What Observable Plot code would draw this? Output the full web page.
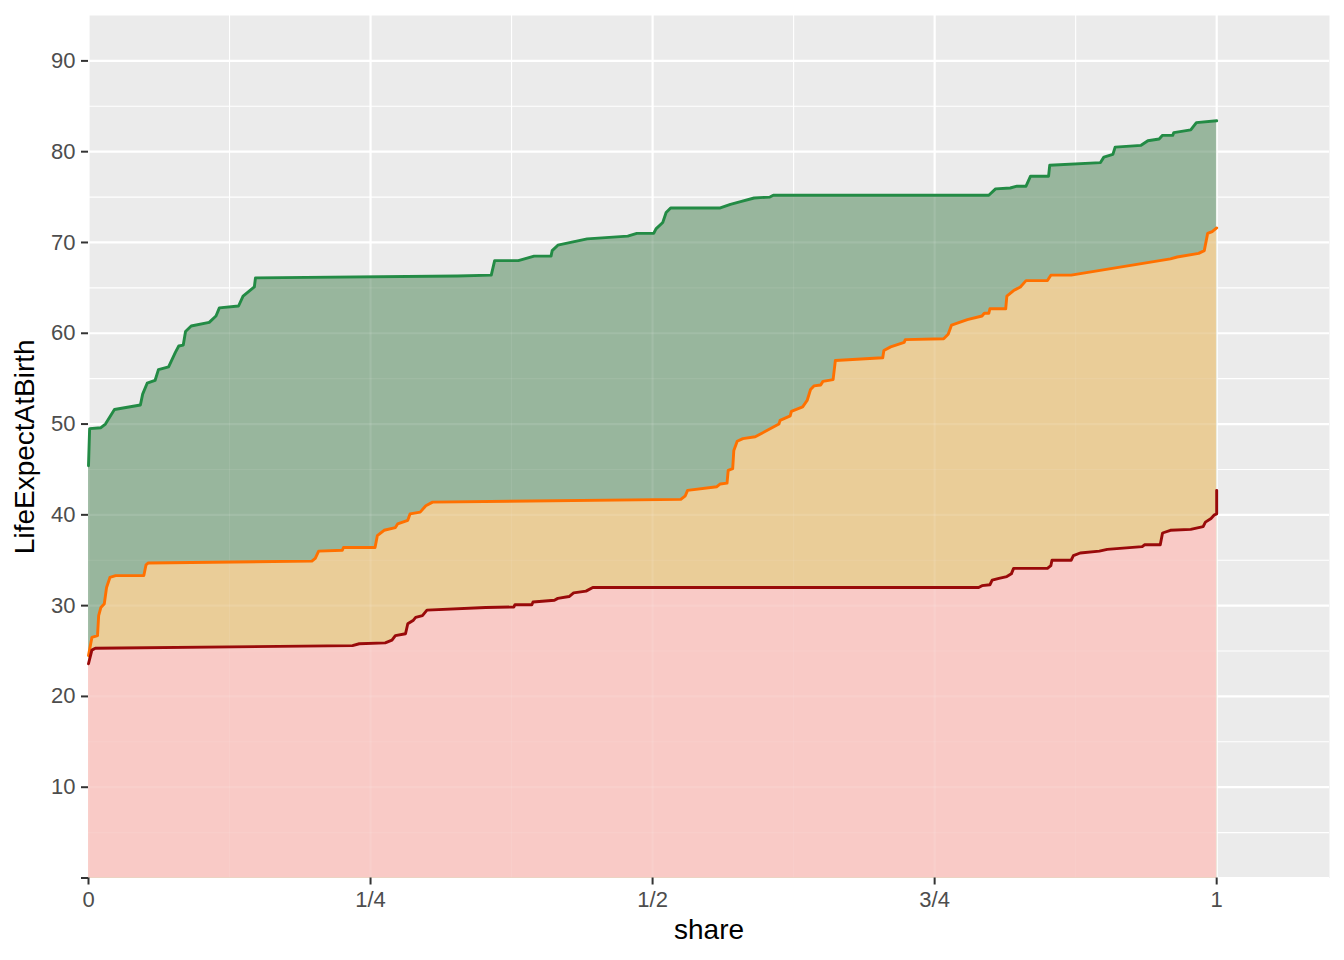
<!DOCTYPE html>
<html>
<head>
<meta charset="utf-8">
<script src="https://cdn.jsdelivr.net/npm/d3@7"></script>
<script src="https://cdn.jsdelivr.net/npm/@observablehq/plot@0.6"></script>
<style>
  html, body { margin: 0; padding: 0; background: #ffffff; }
  #chart { width: 1344px; height: 960px; }
</style>
</head>
<body>
<div id="chart"></div>
<script>
// ---- data ----
const redShare = [0,0.003,0.006,0.234,0.240,0.263,0.269,0.272,0.281,0.283,0.288,0.290,0.296,0.300,0.352,0.377,0.378,0.393,0.394,0.413,0.416,0.426,0.430,0.441,0.447,0.789,0.792,0.799,0.801,0.807,0.814,0.818,0.820,0.850,0.853,0.854,0.871,0.873,0.879,0.896,0.903,0.934,0.936,0.950,0.952,0.959,0.977,0.988,0.990,0.995,0.998,1.000,1.000];
const redLE    = [23.6,25.1,25.3,25.6,25.8,25.9,26.2,26.7,26.9,28.0,28.4,28.7,28.9,29.5,29.8,29.85,30.1,30.1,30.4,30.6,30.8,31.0,31.4,31.6,32.0,32.0,32.2,32.3,32.8,33.0,33.2,33.5,34.1,34.1,34.4,35.0,35.0,35.5,35.8,36.0,36.2,36.5,36.7,36.7,38.0,38.3,38.4,38.7,39.2,39.6,40.0,40.1,42.7];

const orangeShare = [0,0.003,0.008,0.009,0.011,0.014,0.016,0.019,0.024,0.049,0.051,0.053,0.198,0.201,0.204,0.225,0.226,0.254,0.256,0.262,0.272,0.274,0.283,0.285,0.294,0.299,0.305,0.525,0.529,0.531,0.557,0.560,0.566,0.567,0.571,0.572,0.575,0.580,0.591,0.612,0.613,0.622,0.623,0.633,0.637,0.640,0.643,0.649,0.651,0.660,0.662,0.704,0.705,0.711,0.723,0.724,0.758,0.762,0.765,0.779,0.792,0.794,0.798,0.799,0.813,0.814,0.820,0.826,0.831,0.850,0.853,0.871,0.959,0.965,0.984,0.989,0.992,0.996,1.000];
const orangeLE    = [24.5,26.5,26.7,28.9,29.8,30.2,32.0,33.1,33.3,33.3,34.5,34.7,34.9,35.2,36.0,36.1,36.4,36.4,37.7,38.3,38.6,39.0,39.4,40.1,40.3,41.0,41.4,41.7,42.1,42.7,43.1,43.4,43.5,44.9,45.1,47.1,48.1,48.4,48.6,50.0,50.4,50.9,51.4,51.9,52.6,53.8,54.2,54.3,54.7,54.9,57.0,57.3,58.1,58.5,59.0,59.3,59.4,59.9,60.9,61.5,61.9,62.2,62.2,62.7,62.7,64.1,64.7,65.1,65.8,65.8,66.4,66.4,68.2,68.4,68.8,69.1,71.0,71.2,71.6];

const greenShare = [0,0.001,0.011,0.015,0.023,0.046,0.048,0.052,0.059,0.062,0.071,0.077,0.080,0.084,0.086,0.091,0.107,0.113,0.116,0.133,0.137,0.147,0.148,0.327,0.357,0.360,0.381,0.395,0.410,0.411,0.416,0.442,0.478,0.486,0.501,0.503,0.509,0.512,0.516,0.560,0.569,0.578,0.590,0.604,0.607,0.798,0.804,0.817,0.823,0.831,0.835,0.851,0.852,0.897,0.900,0.908,0.910,0.933,0.939,0.949,0.952,0.961,0.962,0.977,0.982,1.000];
const greenLE    = [45.4,49.5,49.6,50.0,51.6,52.1,53.3,54.5,54.8,56.0,56.3,57.9,58.6,58.7,60.2,60.8,61.2,61.9,62.8,63.0,64.1,65.1,66.1,66.3,66.4,68.0,68.0,68.5,68.5,69.1,69.7,70.4,70.7,71.0,71.0,71.5,72.2,73.3,73.8,73.8,74.2,74.5,74.9,75.0,75.2,75.2,75.9,76.0,76.2,76.2,77.3,77.3,78.5,78.8,79.4,79.7,80.5,80.7,81.2,81.4,81.8,81.8,82.1,82.4,83.2,83.4];

const xTicks = [0, 0.25, 0.5, 0.75, 1];
const xTickLabels = ["0", "1/4", "1/2", "3/4", "1"];
const xMinor = [0.125, 0.375, 0.625, 0.875];
const yTicks = [0, 10, 20, 30, 40, 50, 60, 70, 80, 90];
const yTickLabels = ["", "10", "20", "30", "40", "50", "60", "70", "80", "90"];
const yMinor = [5, 15, 25, 35, 45, 55, 65, 75, 85];

const xTitle = "share";
const yTitle = "LifeExpectAtBirth";

// ---- tables ----
const toRows = (s, v) => s.map((d, i) => ({share: d, le: v[i]}));
const red = toRows(redShare, redLE);
const orange = toRows(orangeShare, orangeLE);
const green = toRows(greenShare, greenLE);

const FONT = "'Liberation Sans', Arial, Helvetica, sans-serif";

const chart = Plot.plot({
  width: 1344,
  height: 960,
  marginLeft: 88,
  marginRight: 15,
  marginTop: 15,
  marginBottom: 82.5,
  style: {fontFamily: FONT, background: "#ffffff", overflow: "visible"},
  x: {domain: [0, 1.1], axis: null},
  y: {domain: [0, 95], axis: null},
  marks: [
    Plot.frame({fill: "#EBEBEB", stroke: null}),
    Plot.gridX(xMinor, {stroke: "#ffffff", strokeOpacity: 1, strokeWidth: 1.1}),
    Plot.gridY(yMinor, {stroke: "#ffffff", strokeOpacity: 1, strokeWidth: 1.1}),
    Plot.gridX(xTicks, {stroke: "#ffffff", strokeOpacity: 1, strokeWidth: 2.2}),
    Plot.gridY(yTicks, {stroke: "#ffffff", strokeOpacity: 1, strokeWidth: 2.2}),
    Plot.areaY(green, {x: "share", y: "le", fill: "#98B69D"}),
    Plot.areaY(orange, {x: "share", y: "le", fill: "#EACD98"}),
    Plot.areaY(red, {x: "share", y: "le", fill: "#F9CAC6"}),
    // faint grid showing through the translucent fills
    Plot.gridX(xMinor, {stroke: "#ffffff", strokeOpacity: 0.08, strokeWidth: 1.1}),
    Plot.gridY(yMinor, {stroke: "#ffffff", strokeOpacity: 0.08, strokeWidth: 1.1}),
    Plot.gridX(xTicks, {stroke: "#ffffff", strokeOpacity: 0.1, strokeWidth: 2.2}),
    Plot.gridY(yTicks, {stroke: "#ffffff", strokeOpacity: 0.1, strokeWidth: 2.2}),
    Plot.line(green, {x: "share", y: "le", stroke: "#238B45", strokeWidth: 2.9}),
    Plot.line(orange, {x: "share", y: "le", stroke: "#FF7000", strokeWidth: 2.9}),
    Plot.line(red, {x: "share", y: "le", stroke: "#990A0A", strokeWidth: 2.9}),
    Plot.axisX(xTicks, {
      tickSize: 7, tickPadding: 6, strokeWidth: 2, stroke: "#333333", fill: "#4D4D4D",
      fontSize: 22, tickFormat: (d, i) => xTickLabels[i], label: null
    }),
    Plot.axisY(yTicks, {
      tickSize: 7, tickPadding: 6, strokeWidth: 2, stroke: "#333333", fill: "#4D4D4D",
      fontSize: 22, tickFormat: (d, i) => yTickLabels[i], label: null
    }),
    Plot.text([xTitle], {
      frameAnchor: "bottom", dy: 52, text: d => d, fontSize: 28,
      fill: "#000000", lineAnchor: "middle", textAnchor: "middle"
    }),
    Plot.text([yTitle], {
      frameAnchor: "left", dx: -63, rotate: -90, text: d => d, fontSize: 28,
      fill: "#000000", lineAnchor: "middle", textAnchor: "middle"
    })
  ]
});

document.getElementById("chart").appendChild(chart);
</script>
</body>
</html>
